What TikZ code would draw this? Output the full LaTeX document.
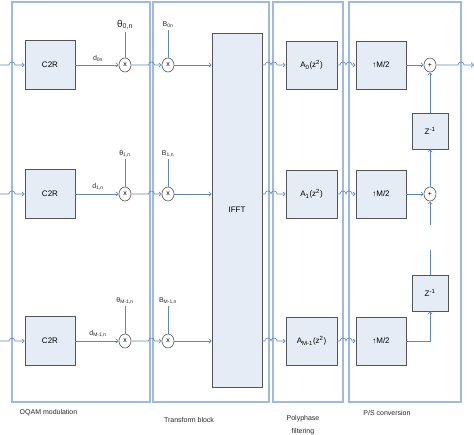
\documentclass[tikz,border=0pt]{standalone}
\usepackage{fontspec}
\setmainfont{Liberation Sans}
\usetikzlibrary{shapes.geometric,arrows.meta}

\definecolor{panelblue}{RGB}{160,185,225}
\definecolor{linkblue}{RGB}{95,135,185}
\definecolor{boxfill}{RGB}{230,236,246}
\definecolor{boxedge}{RGB}{85,85,85}

% small hop of a line where it crosses a panel border
\newcommand{\hop}[2]{-- (#1-3,#2) .. controls (#1-3,#2-4) and (#1+3,#2-4) .. (#1+3,#2)}

\tikzset{
  panel/.style={draw=panelblue, line width=1.4pt},
  blk/.style={draw=boxedge, fill=boxfill, line width=0.6pt, inner sep=0pt, font=\fontsize{8}{9}\selectfont},
  op/.style={ellipse, draw=boxedge, fill=white, line width=0.6pt, minimum width=12pt, minimum height=14pt, inner sep=0pt, font=\fontsize{7}{8}\selectfont},
  link/.style={draw=linkblue, line width=0.6pt, -{Straight Barb[length=2.5pt,width=4.5pt]}},
  tap/.style={draw=linkblue, line width=0.6pt},
  lbl/.style={font=\fontsize{7}{13}\selectfont, inner sep=1.5pt, text=black!85},
}

\begin{document}
\begin{tikzpicture}[x=1pt,y=-1pt]
    \useasboundingbox (0,0) rectangle (474,434);

    % panels
    \draw[panel] (12,2) rectangle (150,402);
    \draw[panel] (153,2) rectangle (269,402);
    \draw[panel] (273,2) rectangle (343,402);
    \draw[panel] (349,2) rectangle (461,402);

    \node[lbl, anchor=west] (oqam) at (18,413) {OQAM modulation};
    \node[lbl] (trans) at (189,420) {Transform block};
    \node[lbl, align=center] (polyf) at (303,425) {Polyphase\\filtering};
    \node[lbl] (ps) at (387,413) {P/S conversion};

    \node[blk, minimum width=50pt, minimum height=354pt] (ifft) at (237,210) {IFFT};

    \foreach \r/\y/\fs/\d/\t/\b/\a in {0/65/10/{0n}/{0,n}/{0n}/0, 1/194/7/{1,n}/{1,n}/{1,n}/1, 2/341/7/{M-1,n}/{M-1,n}/{M-1,n}/{M-1}} {
        \coordinate (in\r) at (0,\y);
        \node[blk, minimum width=50pt, minimum height=49pt] (c2r\r) at (50,\y) {C2R};
        \node[op] (mx\r) at (125,\y) {x};
        \node[op] (mb\r) at (168,\y) {x};
        \node[blk, minimum width=51pt, minimum height=48pt] (poly\r) at (311.5,\y) {A\textsubscript{\a}(z\textsuperscript{2})};
        \node[blk, minimum width=50pt, minimum height=48pt] (up\r) at (381,\y) {↑M/2};

        \node[lbl, anchor=south] (d\r) at (98,\y-2) {d\textsubscript{\d}};
        \node[lbl, font=\fontsize{\fs}{\fs}\selectfont] (th\r) at (125,\y-40) {θ\textsubscript{\t}};
        \node[lbl] (b\r) at (168,\y-40) {B\textsubscript{\b}};

        \draw[link] (in\r) \hop{12}{\y} -- (c2r\r);
        \draw[link] (c2r\r) -- (mx\r);
        \draw[link] (mx\r) \hop{151.5}{\y} -- (mb\r);
        \draw[link] (mb\r) -- (mb\r -| ifft.west);
        \draw[link] (ifft.east |- poly\r.west) \hop{268}{\y} \hop{274}{\y} -- (poly\r);
        \draw[link] (poly\r) \hop{343}{\y} \hop{349}{\y} -- (up\r);
        \draw[tap] (th\r) -- (mx\r);
        \draw[tap] (b\r) -- (mb\r);
    }

    % parallel to serial
    \node[op] (sum0) at (430,65) {+};
    \node[op] (sum1) at (430,194) {+};
    \node[blk, minimum width=36pt, minimum height=36pt] (z0) at (430,131) {Z\textsuperscript{-1}};
    \node[blk, minimum width=36pt, minimum height=36pt] (z1) at (430,293) {Z\textsuperscript{-1}};
    \coordinate (out) at (474,65);
    \coordinate (gap0) at (430,225);
    \coordinate (gap1) at (430,250);

    \draw[link] (up0) -- (sum0);
    \draw[link] (up1) -- (sum1);
    \draw[link] (sum0) \hop{461}{65} -- (out);
    \draw[link] (z0) -- (sum0);
    \draw[link] (sum1) -- (z0);
    \draw[link] (gap0) -- (sum1);
    \draw[tap] (z1) -- (gap1);
    \draw[link] (up2) -| (z1);
\end{tikzpicture}
\end{document}
